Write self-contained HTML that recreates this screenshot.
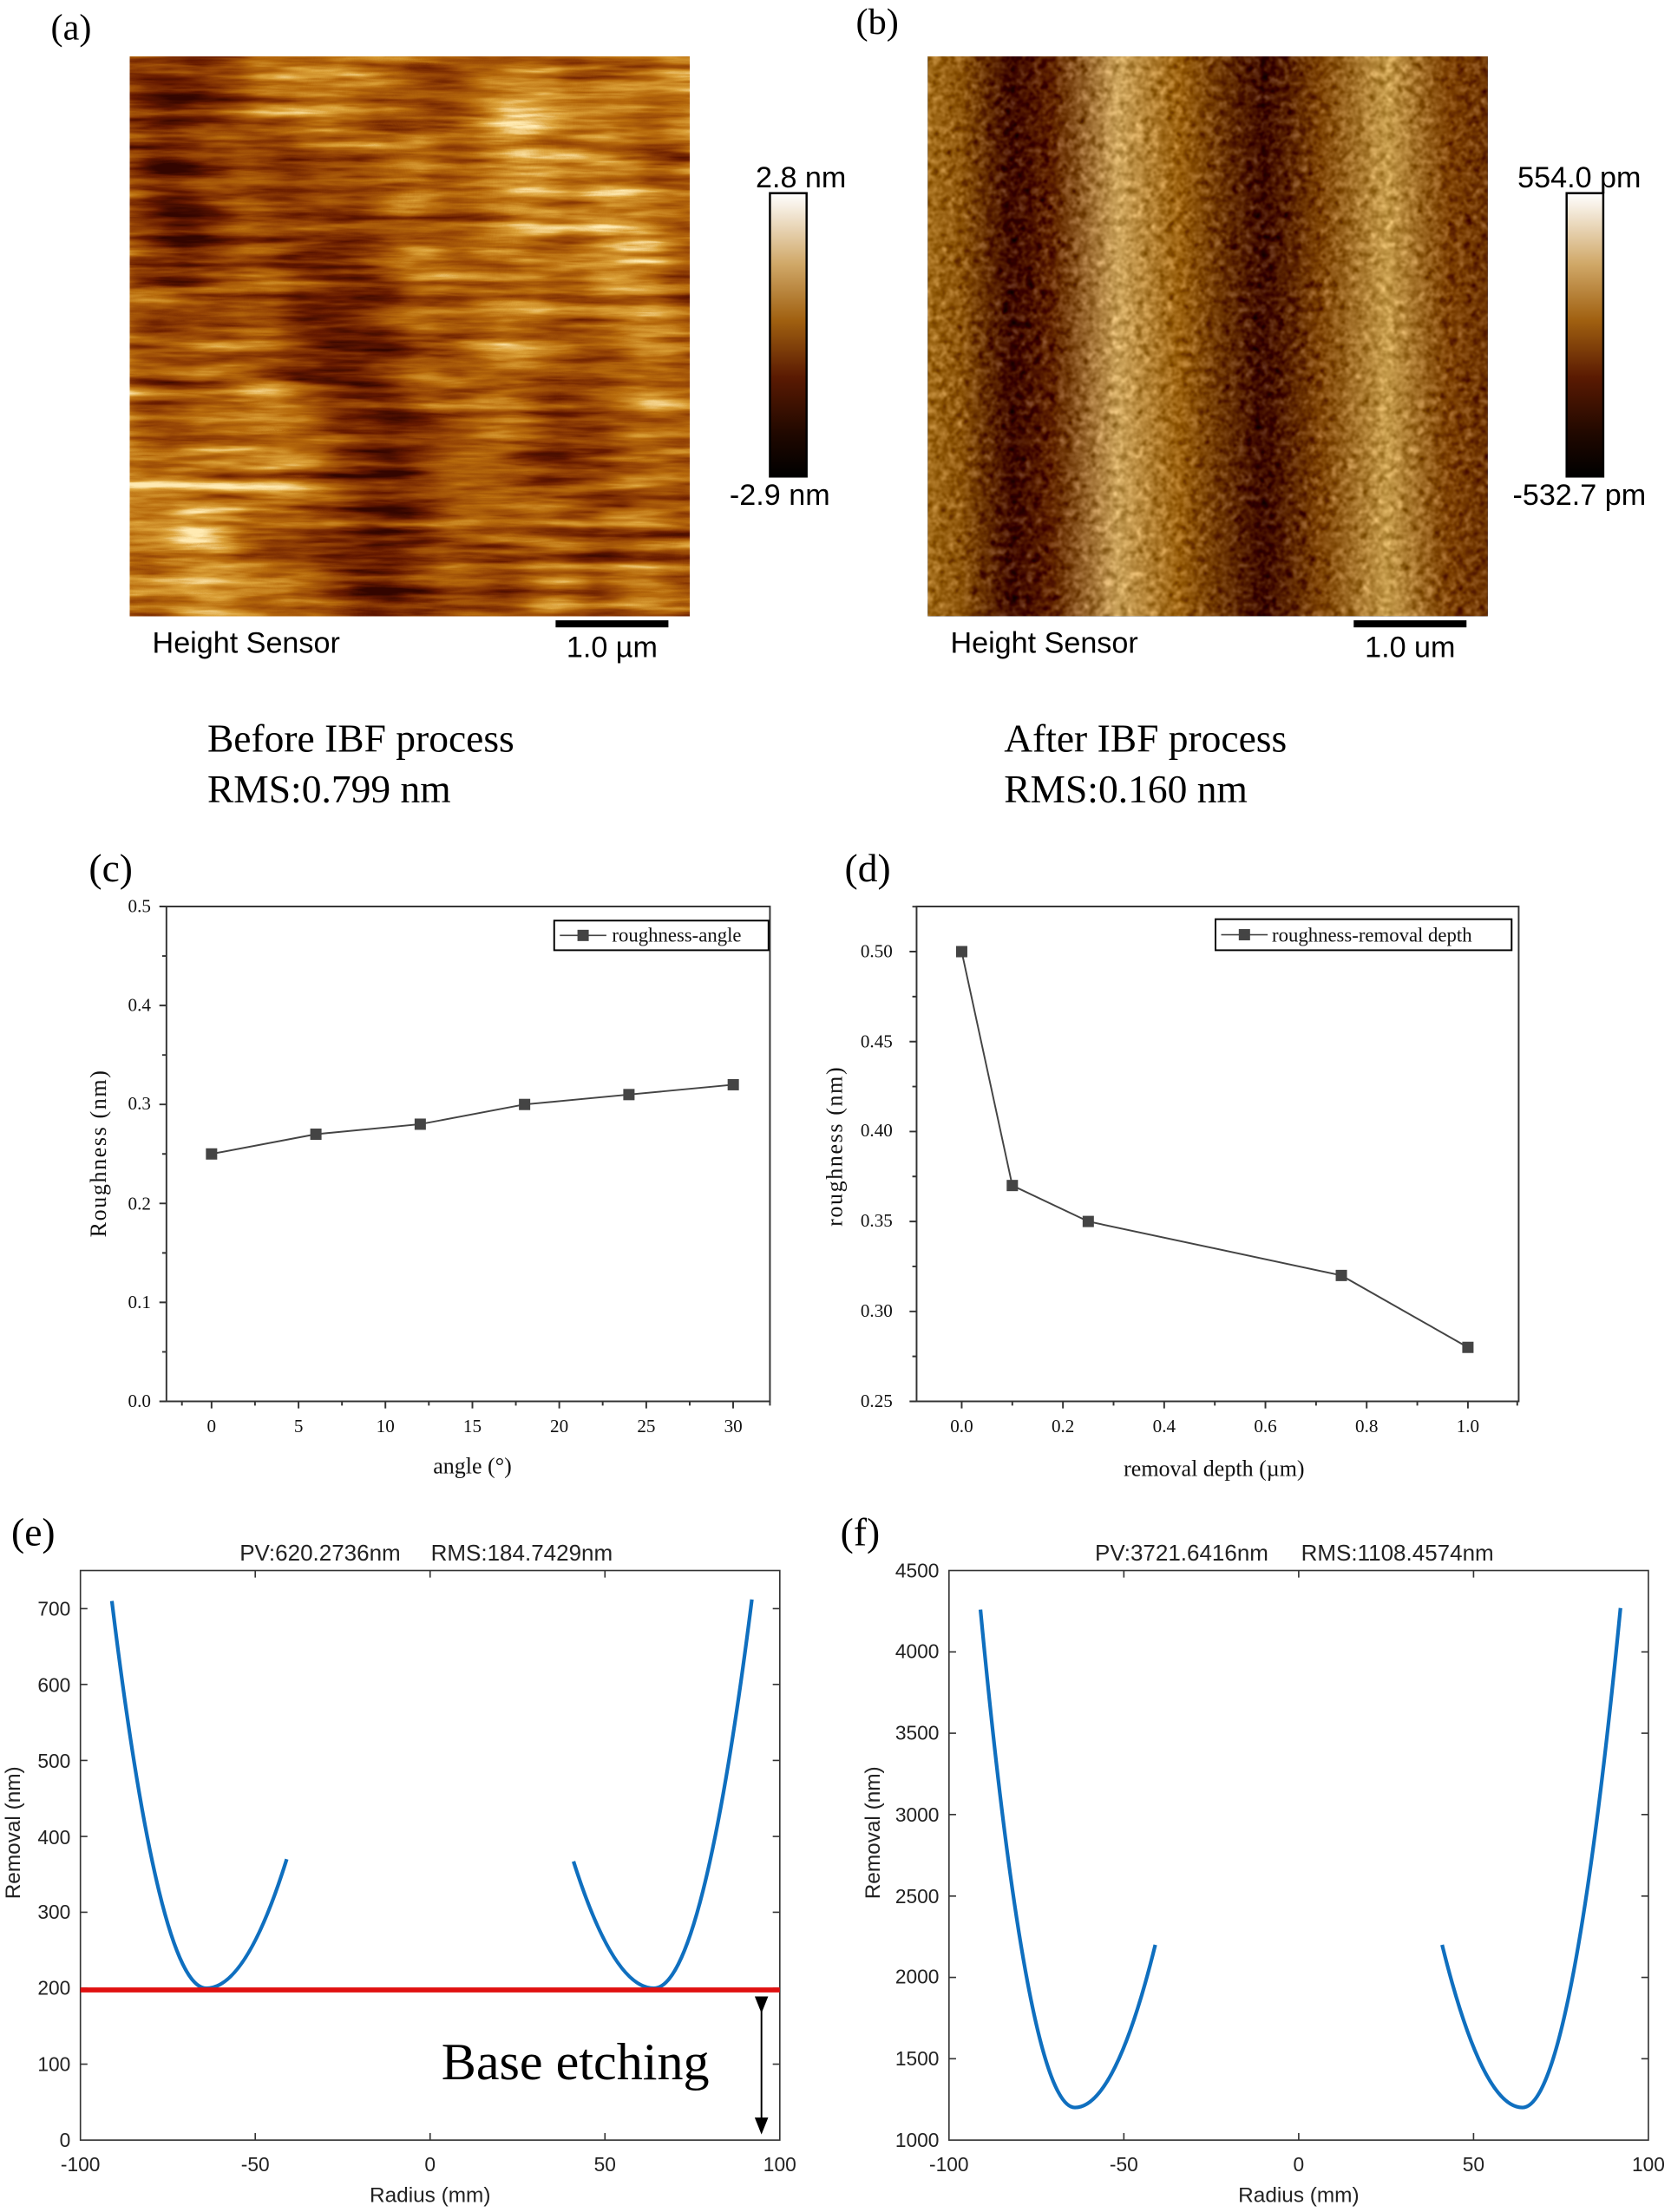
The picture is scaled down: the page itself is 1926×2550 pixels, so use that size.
<!DOCTYPE html>
<html><head><meta charset="utf-8"><style>html,body{margin:0;padding:0;background:#fff}svg{display:block}</style></head>
<body>
<svg width="1926" height="2550" viewBox="0 0 1185 1569" xmlns="http://www.w3.org/2000/svg">
<defs>
<filter id="fa" x="0" y="0" width="100%" height="100%" color-interpolation-filters="sRGB">
<feTurbulence type="fractalNoise" baseFrequency="0.012 0.12" numOctaves="4" seed="3"/>
<feColorMatrix type="matrix" values="0.33 0.33 0.33 0 0 0.33 0.33 0.33 0 0 0.33 0.33 0.33 0 0 0 0 0 0 1" result="n1"/>
<feTurbulence type="fractalNoise" baseFrequency="0.01 0.004" numOctaves="2" seed="11"/>
<feColorMatrix type="matrix" values="0.33 0.33 0.33 0 0 0.33 0.33 0.33 0 0 0.33 0.33 0.33 0 0 0 0 0 0 1" result="n2"/>
<feComposite in="n1" in2="n2" operator="arithmetic" k2="0.6" k3="0.6" k4="-0.1"/>
<feComponentTransfer>
<feFuncR type="linear" slope="2.8" intercept="-0.92"/>
<feFuncG type="linear" slope="2.8" intercept="-0.92"/>
<feFuncB type="linear" slope="2.8" intercept="-0.92"/>
<feFuncA type="linear" slope="0" intercept="1"/>
</feComponentTransfer>
<feComponentTransfer>
<feFuncR type="table" tableValues="0.2 0.4 0.58 0.72 0.86 1"/>
<feFuncG type="table" tableValues="0.02 0.1 0.26 0.42 0.63 0.92"/>
<feFuncB type="table" tableValues="0 0 0.02 0.05 0.22 0.7"/>
</feComponentTransfer>
</filter>
<filter id="fb" x="0" y="0" width="100%" height="100%" color-interpolation-filters="sRGB">
<feTurbulence type="fractalNoise" baseFrequency="0.18" numOctaves="2" seed="7" result="n"/>
<feColorMatrix in="n" type="matrix" values="0.33 0.33 0.33 0 0 0.33 0.33 0.33 0 0 0.33 0.33 0.33 0 0 0 0 0 0 1" result="g"/>
<feComposite in="SourceGraphic" in2="g" operator="arithmetic" k2="1" k3="0.9" k4="-0.5"/>
</filter>
<linearGradient id="bands" x1="0" x2="1" y1="0" y2="0">
<stop offset="0" stop-color="#b07a28"/>
<stop offset="0.06" stop-color="#9a6218"/>
<stop offset="0.15" stop-color="#4a1402"/>
<stop offset="0.22" stop-color="#6a2e06"/>
<stop offset="0.34" stop-color="#d8b068"/>
<stop offset="0.45" stop-color="#a86e1c"/>
<stop offset="0.6" stop-color="#4a1603"/>
<stop offset="0.7" stop-color="#8a5012"/>
<stop offset="0.82" stop-color="#d2a858"/>
<stop offset="0.93" stop-color="#8a4e10"/>
<stop offset="1" stop-color="#7a400c"/>
</linearGradient>
<linearGradient id="cbar" x1="0" x2="0" y1="0" y2="1">
<stop offset="0" stop-color="#ffffff"/>
<stop offset="0.25" stop-color="#d0a868"/>
<stop offset="0.45" stop-color="#a06010"/>
<stop offset="0.65" stop-color="#5a1a02"/>
<stop offset="0.85" stop-color="#200800"/>
<stop offset="1" stop-color="#000"/>
</linearGradient>
<marker id="ah" markerWidth="10" markerHeight="10" refX="5" refY="5" orient="auto"><path d="M0,1 L10,5 L0,9 Z" fill="#000"/></marker>
</defs>

<g font-family="Liberation Serif, serif" font-size="26" fill="#000">
<text x="36" y="28">(a)</text>
<text x="607" y="24">(b)</text>
</g>
<rect x="92" y="40" width="397" height="397" filter="url(#fa)"/>
<rect x="658" y="40" width="397" height="397" fill="url(#bands)" filter="url(#fb)"/>

<rect x="546" y="137" width="26" height="201" fill="url(#cbar)" stroke="#000" stroke-width="1.5"/>
<rect x="1111" y="137" width="26" height="201" fill="url(#cbar)" stroke="#000" stroke-width="1.5"/>
<g font-family="Liberation Sans, sans-serif" font-size="21" fill="#000">
<text x="568" y="133" text-anchor="middle">2.8 nm</text>
<text x="553" y="358" text-anchor="middle">-2.9 nm</text>
<text x="1120" y="133" text-anchor="middle">554.0 pm</text>
<text x="1120" y="358" text-anchor="middle">-532.7 pm</text>
<text x="108" y="463">Height Sensor</text>
<text x="434" y="466" text-anchor="middle">1.0 µm</text>
<text x="674" y="463">Height Sensor</text>
<text x="1000" y="466" text-anchor="middle">1.0 um</text>
</g>
<rect x="394" y="440" width="80" height="5" fill="#000"/>
<rect x="960" y="440" width="80" height="5" fill="#000"/>

<g font-family="Liberation Serif, serif" font-size="28" fill="#000">
<text x="147" y="533">Before IBF process</text>
<text x="147" y="569">RMS:0.799 nm</text>
<text x="712" y="533">After IBF process</text>
<text x="712" y="569">RMS:0.160 nm</text>
<text x="63" y="625">(c)</text>
<text x="599" y="625">(d)</text>
<text x="8" y="1096">(e)</text>
<text x="596" y="1096">(f)</text>
</g>

<!-- chart c -->
<g stroke="#333" stroke-width="1.2" fill="none">
<rect x="118" y="643" width="428" height="351"/>
<path d="M118,994h-5M118,958.9h-3M118,923.8h-5M118,888.7h-3M118,853.6h-5M118,818.5h-3M118,783.4h-5M118,748.3h-3M118,713.2h-5M118,678.1h-3M118,643h-5"/>
<path d="M150,994v5M180.8,994v3M211.7,994v5M242.5,994v3M273.3,994v5M304.1,994v3M335,994v5M365.8,994v3M396.6,994v5M427.4,994v3M458.3,994v5M489.1,994v3M519.9,994v5M129,994v3M546,994v3"/>
<polyline points="150,818.5 224,804.5 298,797.4 372,783.4 446,776.4 520,769.4" stroke="#444"/>
</g>
<g fill="#444">
<rect x="146" y="814.5" width="8" height="8"/><rect x="220" y="800.5" width="8" height="8"/><rect x="294" y="793.4" width="8" height="8"/><rect x="368" y="779.4" width="8" height="8"/><rect x="442" y="772.4" width="8" height="8"/><rect x="516" y="765.4" width="8" height="8"/>
</g>
<rect x="393" y="653" width="152" height="21" fill="#fff" stroke="#000" stroke-width="1.2"/>
<line x1="397" y1="663.5" x2="430" y2="663.5" stroke="#444"/><rect x="409.5" y="659.5" width="8" height="8" fill="#444"/>
<g font-family="Liberation Serif, serif" font-size="14" fill="#111">
<text x="434" y="668">roughness-angle</text>
<g font-size="13" text-anchor="end">
<text x="107" y="998">0.0</text><text x="107" y="928">0.1</text><text x="107" y="858">0.2</text><text x="107" y="787">0.3</text><text x="107" y="717">0.4</text><text x="107" y="647">0.5</text>
</g>
<g font-size="13" text-anchor="middle">
<text x="150" y="1016">0</text><text x="211.7" y="1016">5</text><text x="273.3" y="1016">10</text><text x="335" y="1016">15</text><text x="396.6" y="1016">20</text><text x="458.3" y="1016">25</text><text x="520" y="1016">30</text>
<text x="335" y="1045" font-size="16">angle (°)</text>
</g>
<text transform="translate(75,818) rotate(-90)" text-anchor="middle" font-size="16" letter-spacing="1">Roughness (nm)</text>
</g>

<!-- chart d -->
<g stroke="#333" stroke-width="1.2" fill="none">
<rect x="650" y="643" width="427" height="351"/>
<path d="M650,994h-5M650,962.1h-3M650,930.2h-5M650,898.3h-3M650,866.4h-5M650,834.5h-3M650,802.6h-5M650,770.7h-3M650,738.8h-5M650,706.9h-3M650,675h-5M650,643.1h-3"/>
<path d="M682,994v5M717.9,994v3M753.8,994v5M789.7,994v3M825.6,994v5M861.5,994v3M897.4,994v5M933.3,994v3M969.2,994v5M1005.1,994v3M1041,994v5M1076,994v3"/>
<polyline points="682,675 717.9,840.9 771.75,866.4 951.25,904.7 1041,955.7" stroke="#444"/>
</g>
<g fill="#444">
<rect x="678" y="671" width="8" height="8"/><rect x="713.9" y="836.9" width="8" height="8"/><rect x="767.75" y="862.4" width="8" height="8"/><rect x="947.25" y="900.7" width="8" height="8"/><rect x="1037" y="951.7" width="8" height="8"/>
</g>
<rect x="862" y="652" width="210" height="22" fill="#fff" stroke="#000" stroke-width="1.2"/>
<line x1="866" y1="663" x2="899" y2="663" stroke="#444"/><rect x="878.5" y="659" width="8" height="8" fill="#444"/>
<g font-family="Liberation Serif, serif" font-size="14" fill="#111">
<text x="902" y="668">roughness-removal depth</text>
<g font-size="13" text-anchor="end">
<text x="633" y="998">0.25</text><text x="633" y="934">0.30</text><text x="633" y="870">0.35</text><text x="633" y="806">0.40</text><text x="633" y="743">0.45</text><text x="633" y="679">0.50</text>
</g>
<g font-size="13" text-anchor="middle">
<text x="682" y="1016">0.0</text><text x="753.8" y="1016">0.2</text><text x="825.6" y="1016">0.4</text><text x="897.4" y="1016">0.6</text><text x="969.2" y="1016">0.8</text><text x="1041" y="1016">1.0</text>
<text x="861" y="1047" font-size="16">removal depth (µm)</text>
</g>
<text transform="translate(597,813) rotate(-90)" text-anchor="middle" font-size="16" letter-spacing="1">roughness (nm)</text>
</g>

<!-- charts e,f -->
<g font-family="Liberation Sans, sans-serif" font-size="15" fill="#222">
<g font-size="16" text-anchor="middle">
<text x="227" y="1107">PV:620.2736nm</text><text x="370" y="1107">RMS:184.7429nm</text>
<text x="838" y="1107">PV:3721.6416nm</text><text x="991" y="1107">RMS:1108.4574nm</text>
</g>
<g text-anchor="end" font-size="14">
<text x="50" y="1523">0</text><text x="50" y="1469">100</text><text x="50" y="1415">200</text><text x="50" y="1361">300</text><text x="50" y="1308">400</text><text x="50" y="1254">500</text><text x="50" y="1200">600</text><text x="50" y="1146">700</text>
<text x="666" y="1523">1000</text><text x="666" y="1465">1500</text><text x="666" y="1407">2000</text><text x="666" y="1350">2500</text><text x="666" y="1292">3000</text><text x="666" y="1234">3500</text><text x="666" y="1176">4000</text><text x="666" y="1119">4500</text>
</g>
<g text-anchor="middle" font-size="14">
<text x="57" y="1540">-100</text><text x="181" y="1540">-50</text><text x="305" y="1540">0</text><text x="429" y="1540">50</text><text x="553" y="1540">100</text>
<text x="673" y="1540">-100</text><text x="797" y="1540">-50</text><text x="921" y="1540">0</text><text x="1045" y="1540">50</text><text x="1169" y="1540">100</text>
<text x="305" y="1562" font-size="15">Radius (mm)</text>
<text x="921" y="1562" font-size="15">Radius (mm)</text>
</g>
<text transform="translate(14,1300) rotate(-90)" text-anchor="middle" font-size="15">Removal (nm)</text>
<text transform="translate(624,1300) rotate(-90)" text-anchor="middle" font-size="15">Removal (nm)</text>
</g>
<g stroke="#333" stroke-width="1" fill="none">
<rect x="57" y="1114" width="496" height="404"/>
<path d="M181,1518v-5M305,1518v-5M429,1518v-5M181,1114v5M305,1114v5M429,1114v5"/>
<path d="M57,1464.1h5M57,1410.3h5M57,1356.4h5M57,1302.6h5M57,1248.7h5M57,1194.8h5M57,1141h5M553,1464.1h-5M553,1410.3h-5M553,1356.4h-5M553,1302.6h-5M553,1248.7h-5M553,1194.8h-5M553,1141h-5"/>
<rect x="673" y="1114" width="496" height="404"/>
<path d="M797,1518v-5M921,1518v-5M1045,1518v-5M797,1114v5M921,1114v5M1045,1114v5"/>
<path d="M673,1460.3h5M673,1402.6h5M673,1344.9h5M673,1287.1h5M673,1229.4h5M673,1171.7h5M1169,1460.3h-5M1169,1402.6h-5M1169,1344.9h-5M1169,1287.1h-5M1169,1229.4h-5M1169,1171.7h-5"/>
</g>
<g stroke="#0f6fbf" stroke-width="2.6" fill="none">
<path d="M79.3,1135.6 Q112.8,1410.3 146.3,1410.3 Q174.8,1410.3 203.3,1318.7"/>
<path d="M406.7,1320.3 Q435.2,1410.3 463.7,1410.3 Q498.5,1410.3 533.2,1134.5"/>
<path d="M695.3,1141.7 Q728.8,1494.9 762.3,1494.9 Q790.8,1494.9 819.3,1379.5"/>
<path d="M1022.7,1379.5 Q1051.2,1494.9 1079.7,1494.9 Q1114.5,1494.9 1149.2,1140.6"/>
</g>
<line x1="57" y1="1411.5" x2="553" y2="1411.5" stroke="#e01010" stroke-width="3.5"/>
<line x1="540" y1="1422" x2="540" y2="1508" stroke="#000" stroke-width="1.2" marker-start="url(#ah)" marker-end="url(#ah)"/>
<text x="313" y="1475" font-family="Liberation Serif, serif" font-size="37" fill="#000">Base etching</text>
</svg>
</body></html>
